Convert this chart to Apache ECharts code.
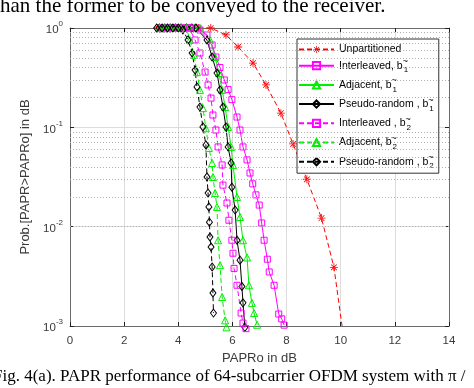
<!DOCTYPE html>
<html><head><meta charset="utf-8">
<script src="https://cdn.jsdelivr.net/npm/echarts@6/dist/echarts.min.js"></script>
<style>html,body{margin:0;padding:0;background:#fff}#c{width:474px;height:388px}</style>
</head><body><div id="c"></div>
<script>
const seriesNames = ['Unpartitioned','Interleaved, b1','Adjacent, b1','Pseudo-random , b1','Interleaved , b2','Adjacent, b2','Pseudo-random , b2'];
const yMinor = [0.002,0.003,0.004,0.005,0.006,0.007,0.008,0.009,0.02,0.03,0.04,0.05,0.06,0.07,0.08,0.09,0.2,0.3,0.4,0.5,0.6,0.7,0.8,0.9];

const unpartX = [3.25,3.75,4.25,4.75,5.2,5.76,6.21,6.76,7.24,7.79,8.24,8.75,9.29,9.75,10.05];
const unpartY = [1,1,1,1,1,0.851,0.644,0.444,0.267,0.139,0.068,0.030,0.0122,0.0039,0.001];

const intl1X = [3.5,3.7,3.9,4.1,4.3,4.5,4.7,4.8,5.06,5.25,5.39,5.54,5.7,5.84,5.98,6.17,6.28,6.39,6.54,6.65,6.75,6.87,6.99,7.08,7.17,7.29,7.36,7.54,7.71,7.82,7.91];
const intl1Y = [1,1,1,1,1,1,1,0.955,0.85,0.674,0.51,0.40,0.30,0.24,0.19,0.127,0.094,0.0635,0.047,0.0347,0.027,0.0209,0.0165,0.0109,0.0073,0.0047,0.0035,0.00257,0.00132,0.00118,0.00102];

const adj1X = [3.4,3.6,3.8,4.0,4.2,4.4,4.6,4.8,5.17,5.36,5.50,5.62,5.73,5.84,5.95,6.02,6.17,6.28,6.39,6.54,6.61,6.72,6.80,6.91];
const adj1Y = [1,1,1,1,1,1,1,1,0.757,0.51,0.352,0.238,0.16,0.101,0.0635,0.0418,0.0199,0.0125,0.0073,0.0049,0.00257,0.00171,0.00135,0.00103];

const pr1X = [3.3,3.5,3.7,3.9,4.1,4.3,4.5,4.65,5.06,5.25,5.43,5.54,5.65,5.76,5.84,5.95,5.98,6.10,6.17,6.28,6.35,6.39,6.46];
const pr1Y = [1,1,1,1,1,1,1,1,0.757,0.51,0.352,0.238,0.16,0.101,0.0635,0.0438,0.025,0.0147,0.0073,0.0046,0.0025,0.00171,0.00097];

const intl2X = [3.4,3.6,3.8,4.0,4.2,4.4,4.45,4.62,4.80,4.99,5.10,5.21,5.28,5.39,5.47,5.62,5.65,5.80,5.87,5.98,6.02,6.06,6.17,6.32,6.39,6.50];
const intl2Y = [1,1,1,1,1,1,1,0.757,0.56,0.36,0.267,0.197,0.133,0.094,0.0635,0.0418,0.0262,0.0173,0.0116,0.0073,0.0054,0.0038,0.00257,0.00135,0.00107,0.00094];

const adj2X = [3.3,3.5,3.7,3.9,4.1,4.3,4.43,4.58,4.69,4.80,4.91,5.02,5.13,5.25,5.28,5.36,5.43,5.47,5.54,5.62,5.73,5.78];
const adj2Y = [1,1,1,1,1,1,0.757,0.535,0.36,0.237,0.156,0.098,0.062,0.0438,0.0316,0.0218,0.0158,0.0073,0.0041,0.00196,0.00114,0.00097];

const pr2X = [3.2,3.4,3.6,3.8,4.0,4.17,4.36,4.51,4.62,4.69,4.80,4.91,5.02,5.06,5.10,5.13,5.15,5.17,5.21,5.25,5.28,5.30];
const pr2Y = [1,1,1,1,1,0.955,0.757,0.56,0.378,0.255,0.16,0.101,0.0664,0.0316,0.0218,0.0158,0.0111,0.00787,0.00624,0.00393,0.00215,0.00135];

const pairs = (xs, ys) => xs.map((x, i) => [x, ys[i]]);
const starPath = 'path://M-1 -10L1 -10L1 10L-1 10Z M-10 -1L10 -1L10 1L-10 1Z M-7.8 -6.4L6.4 7.8L7.8 6.4L-6.4 -7.8Z M6.4 -7.8L7.8 -6.4L-6.4 7.8L-7.8 6.4Z';

function mk(name, color, dash, symbol, size, xs, ys, extra) {
  return Object.assign({
    name: name, type: 'line', xAxisIndex: 0, yAxisIndex: 0,
    data: pairs(xs, ys), symbol: symbol, symbolSize: size, clip: false,
    showSymbol: true, animation: false,
    lineStyle: { color: color, width: 1, type: dash ? [5, 3] : 'solid' },
    itemStyle: { color: 'rgba(255,255,255,0)', borderColor: color, borderWidth: 1 },
    emphasis: { disabled: true }
  }, extra || {});
}

const series = [
  mk(seriesNames[0], '#ff0000', true, starPath, 8, unpartX, unpartY, {
    symbolSize: (v, p) => p.dataIndex === unpartX.length - 1 ? 0 : 8,
    itemStyle: { color: '#ff0000', borderWidth: 0 },
    markLine: {
      silent: true, symbol: 'none', label: { show: false }, animation: false,
      lineStyle: { type: [1, 2], color: '#b0b0b0', width: 1 },
      data: yMinor.map(v => ({ yAxis: v }))
    }
  }),
  mk(seriesNames[1], '#ff00ff', false, 'rect', 6, intl1X, intl1Y),
  mk(seriesNames[2], '#00ee00', false, 'triangle', 7, adj1X, adj1Y),
  mk(seriesNames[3], '#000000', false, 'diamond', [6, 8], pr1X, pr1Y),
  mk(seriesNames[4], '#ff00ff', true, 'rect', 6, intl2X, intl2Y),
  mk(seriesNames[5], '#00ee00', true, 'triangle', 7, adj2X, adj2Y),
  mk(seriesNames[6], '#000000', true, 'diamond', [6, 8], pr2X, pr2Y)
];

const axisCol = '#6b6b6b';
const labelCol = '#3a3a3a';
const chart = echarts.init(document.getElementById('c'), null, { renderer: 'canvas' });
chart.setOption({
  animation: false,
  backgroundColor: '#fff',
  grid: { left: 70, right: 25, top: 28, bottom: 62 },
  textStyle: { fontFamily: 'Liberation Sans, Arial, sans-serif' },
  xAxis: [{
    type: 'value', min: 0, max: 14, interval: 2, position: 'bottom',
    axisLine: { show: true, onZero: false, lineStyle: { color: axisCol } },
    axisTick: { show: true, inside: true, length: 4, lineStyle: { color: '#222' } },
    axisLabel: { margin: 9, fontSize: 11.5, color: labelCol },
    splitLine: { show: true, lineStyle: { color: '#dcdcdc', width: 1 } },
    name: 'PAPRo in dB', nameLocation: 'middle', nameGap: 25,
    nameTextStyle: { fontSize: 13, color: labelCol }
  }, {
    type: 'value', min: 0, max: 14, interval: 2, position: 'top',
    axisLine: { show: true, onZero: false, lineStyle: { color: axisCol } },
    axisTick: { show: true, inside: true, length: 4, lineStyle: { color: '#222' } },
    axisLabel: { show: false }, splitLine: { show: false }
  }],
  yAxis: [{
    type: 'log', logBase: 10, min: 0.001, max: 1, position: 'left',
    axisLine: { show: true, onZero: false, lineStyle: { color: axisCol } },
    axisTick: { show: true, inside: true, length: 4, lineStyle: { color: '#222' } },
    axisLabel: {
      margin: 7, color: labelCol,
      formatter: v => '{b|10}{e|' + Math.round(Math.log10(v)) + '}',
      rich: {
        b: { fontSize: 11.5, color: labelCol, lineHeight: 16, verticalAlign: 'bottom' },
        e: { fontSize: 8, color: labelCol, lineHeight: 8, verticalAlign: 'top' }
      }
    },
    splitLine: { show: true, lineStyle: { color: '#dcdcdc', width: 1 } },
    name: 'Prob.[PAPR>PAPRo] in dB', nameLocation: 'middle', nameGap: 32,
    nameTextStyle: { fontSize: 13, color: labelCol }
  }, {
    type: 'log', logBase: 10, min: 0.001, max: 1, position: 'right',
    axisLine: { show: true, onZero: false, lineStyle: { color: axisCol } },
    axisTick: { show: true, inside: true, length: 4, lineStyle: { color: '#222' } },
    axisLabel: { show: false }, splitLine: { show: false }
  }],
  legend: {
    data: seriesNames, orient: 'vertical', left: 297, top: 39,
    padding: [5, 5, 3, 1], itemGap: 2.2, itemWidth: 35, itemHeight: 9,
    backgroundColor: '#fff', borderColor: '#333', borderWidth: 1, borderRadius: 0,
    selectedMode: false,
    formatter: name => {
      const d = name.slice(-1);
      if (d === '1' || d === '2') {
        return '{t|' + name.slice(0, -1) + '}{tl|~}{sb|' + d + '}';
      }
      return '{p|' + name + '}';
    },
    textStyle: {
      color: '#000', fontSize: 10.5,
      rich: {
        p: { fontSize: 10.5, color: '#000', lineHeight: 13 },
        t: { fontSize: 10.5, color: '#000', lineHeight: 17, verticalAlign: 'middle' },
        tl: { fontSize: 9, color: '#000', lineHeight: 9, width: 1, verticalAlign: 'top' },
        sb: { fontSize: 8, color: '#000', lineHeight: 8, verticalAlign: 'bottom' }
      }
    }
  },
  graphic: [
    { type: 'text', left: 0, top: -3.6, style: { text: 'han the former to be conveyed to the receiver.', font: '21px "Liberation Serif", "Times New Roman", serif', fill: '#000' } },
    { type: 'text', x: -7, y: 368.5, style: { text: 'Fig. 4(a). PAPR performance of 64-subcarrier OFDM system with π /', font: '17px "Liberation Serif", "Times New Roman", serif', fill: '#000' } }
  ],
  series: series
});
</script></body></html>
